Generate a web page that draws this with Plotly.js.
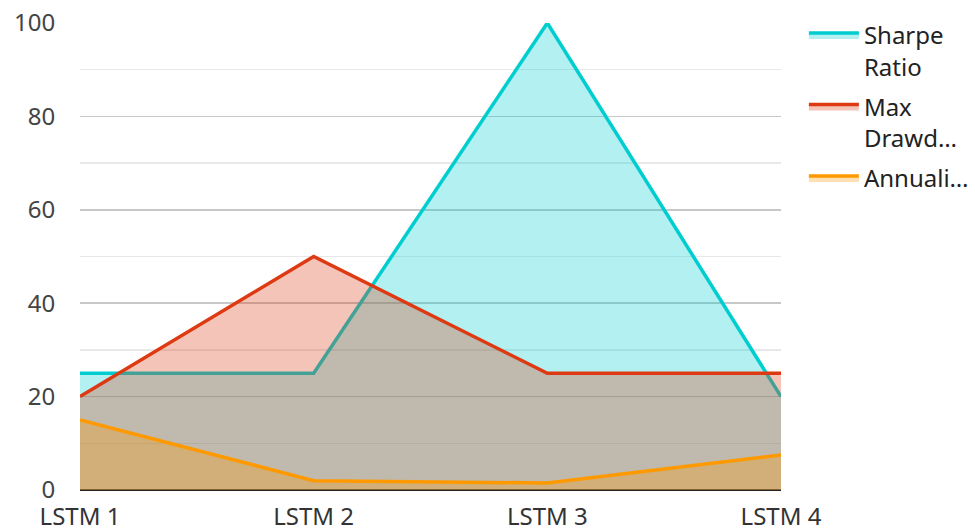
<!DOCTYPE html>
<html>
<head>
<meta charset="utf-8">
<script src="https://cdn.plot.ly/plotly-3.0.1.min.js"></script>
<style>html,body{margin:0;padding:0;background:#fff;}#chart{width:975px;height:531px;}</style>
</head>
<body>
<div id="chart"></div>
<script>
const categories = ["LSTM 1", "LSTM 2", "LSTM 3", "LSTM 4"];
const sharpeRatio = [25, 25, 100, 20];
const maxDrawdown = [20, 50, 25, 25];
const annualized = [15, 2, 1.5, 7.5];
const seriesNames = ["Sharpe<br>Ratio", "Max<br>Drawd…", "Annuali…"];

const colors = ["#00CDCF", "#DD3A13", "#FF9900"];
const fills = ["rgba(0,205,207,0.3)", "rgba(221,58,19,0.3)", "rgba(255,153,0,0.3)"];
const series = [sharpeRatio, maxDrawdown, annualized];

const traces = series.map((vals, i) => ({
  type: "scatter",
  mode: "lines",
  x: categories,
  y: vals,
  name: seriesNames[i],
  legendgroup: "g" + i,
  fill: "tozeroy",
  fillcolor: fills[i],
  line: {color: colors[i], width: 3.5},
  hoverinfo: "x+y"
}));

const layout = {
  width: 975,
  height: 531,
  margin: {l: 80, r: 194, t: 23, b: 41},
  paper_bgcolor: "#fff",
  plot_bgcolor: "#fff",
  font: {family: "Noto Sans, Open Sans, sans-serif", size: 24, color: "#333"},
  showlegend: true,
  legend: {
    xref: "container", yref: "container",
    x: 0.8245, y: 0.9755, xanchor: "left", yanchor: "top",
    font: {size: 24, color: "#222"},
    itemwidth: 50,
    valign: "top",
    traceorder: "grouped",
    tracegroupgap: 6,
    bgcolor: "rgba(0,0,0,0)"
  },
  xaxis: {
    type: "category",
    range: [0, 3],
    showgrid: false,
    zeroline: false,
    showline: false,
    ticks: "outside",
    ticklen: 5,
    tickcolor: "rgba(0,0,0,0)",
    tickfont: {size: 24, color: "#333"},
    fixedrange: true
  },
  yaxis: {
    range: [0, 100],
    dtick: 20,
    showgrid: true,
    gridcolor: "#c8c8c8",
    gridwidth: 1.5,
    zeroline: true,
    zerolinecolor: "#222",
    zerolinewidth: 2.5,
    showline: false,
    ticks: "outside",
    ticklen: 19,
    tickcolor: "rgba(0,0,0,0)",
    tickfont: {size: 24, color: "#444"},
    minor: {dtick: 10, showgrid: true, gridcolor: "#e8e8e8", gridwidth: 1.5},
    fixedrange: true
  }
};

Plotly.newPlot("chart", traces, layout, {displayModeBar: false, staticPlot: true});
</script>
</body>
</html>
